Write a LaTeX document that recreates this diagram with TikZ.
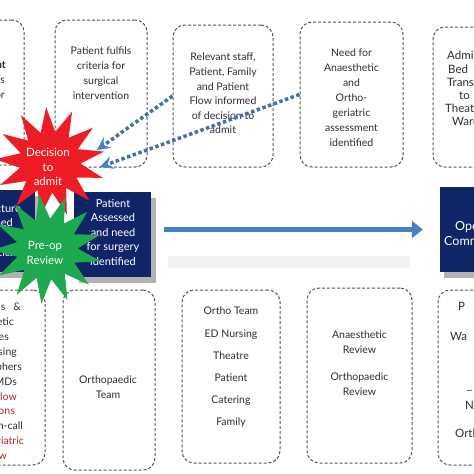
\documentclass[tikz,border=0pt]{standalone}
\usepackage{fontspec}
\setmainfont{Lato}
\usetikzlibrary{shapes.geometric,arrows.meta}
\definecolor{navy}{RGB}{16,36,104}
\definecolor{txt}{RGB}{45,45,60}
\definecolor{redt}{RGB}{176,40,40}
\definecolor{starred}{RGB}{238,28,36}
\definecolor{stargreen}{RGB}{30,168,80}
\definecolor{arrowblue}{RGB}{74,126,200}
\definecolor{dotblue}{RGB}{70,110,170}
\definecolor{dashgray}{RGB}{85,85,85}
\begin{document}
\begin{tikzpicture}[x=1pt,y=-1pt,
  dbox/.style={draw=dashgray, dash pattern=on 3pt off 2pt, line width=1pt, rounded corners=12pt, inner sep=0},
  navybox/.style={fill=navy, draw=none, inner sep=0},
  shadowbox/.style={fill=black!30, draw=none, inner sep=0},
  btxt/.style={text=txt, font=\fontsize{10.5}{15}\selectfont, align=center, inner sep=0},
  wtxt/.style={text=white, font=\fontsize{11}{14.5}\selectfont, align=center, inner sep=0},
  cliptxt/.style={text=txt, font=\fontsize{10.5}{15}\selectfont, inner sep=0},
  bigtxt/.style={text=txt, font=\fontsize{11.5}{15}\selectfont, inner sep=0},
  redtxt/.style={cliptxt, text=redt},
  whclip/.style={text=white, font=\fontsize{11}{14.5}\selectfont, inner sep=0},
  burst/.style={star, star points=13, star point ratio=1.8, minimum size=110pt, inner sep=0, draw=none},
  bigarrow/.style={draw=arrowblue, line width=5.5pt, -{Triangle[length=11pt,width=17pt]}},
  dotarrow/.style={draw=dotblue, line width=3.5pt, dash pattern=on 3.5pt off 2.5pt,
     -{Stealth[length=13pt,width=13pt,inset=5pt,line width=0.5pt,fill=arrowblue,color=arrowblue]}}
]
\useasboundingbox (0,0) rectangle (474,474);
\fill[white] (0,0) rectangle (474,474);
\clip (0,0) rectangle (474,474);

% ---------- top row ----------
\node[dbox, minimum width=104pt, minimum height=145pt] (boxA) at (-28,92.5) {};
\node[cliptxt, anchor=mid east, font=\fontsize{10.5}{15}\selectfont\bfseries] (a1) at (6,66) {Assessment};
\node[cliptxt, anchor=mid east] (a2) at (5,81) {Diagnosis};
\node[cliptxt, anchor=mid east] (a3) at (5,96) {Referral for};

\node[dbox, minimum width=92pt, minimum height=147pt] (fulfil) at (101,93.5) {};
\node[btxt] (fulfilt) at (101,73.5) {Patient fulfils\\criteria for\\surgical\\intervention};

\node[dbox, minimum width=100pt, minimum height=142pt] (inform) at (223,96) {};
\node[btxt, font=\fontsize{10.5}{14.6}\selectfont] (informt) at (223,93.5) {Relevant staff,\\Patient, Family\\and Patient\\Flow informed\\of decision to\\admit};

\node[dbox, minimum width=103pt, minimum height=145pt] (need) at (351.5,94.5) {};
\node[btxt] (needt) at (351.5,98) {Need for\\Anaesthetic\\and\\Ortho-\\geriatric\\assessment\\identified};

\node[dbox, minimum width=107pt, minimum height=140pt] (boxE) at (486.5,97) {};
\node[bigtxt, anchor=mid west] (e1) at (447,57) {Admit};
\node[bigtxt, anchor=mid west] (e2) at (448,71) {Bed};
\node[bigtxt, anchor=mid west] (e3) at (447,84) {Transfer};
\node[bigtxt, anchor=mid west] (e4) at (459,97) {to};
\node[bigtxt, anchor=mid west] (e5) at (445,110) {Theatre};
\node[bigtxt, anchor=mid west] (e6) at (452,123) {Ward};

% ---------- middle row ----------
\fill[black!5] (168,256) rectangle (410,268);

\node[shadowbox, minimum width=65pt, minimum height=82pt] (leftsh) at (7,237) {};
\node[navybox, minimum width=65pt, minimum height=82pt] (leftdark) at (2.5,231) {};
\node[whclip, anchor=mid east] (l1) at (21,210) {Fracture};
\node[whclip, anchor=mid east] (l2) at (13,224) {Confirmed};
\node[whclip, anchor=mid east] (l3) at (13,254) {Diagnostic.};

\node[shadowbox, minimum width=77pt, minimum height=85pt] (assesssh) at (117.5,240) {};
\node[navybox, minimum width=77pt, minimum height=85pt] (assess) at (112.5,234.5) {};
\node[wtxt] (assesst) at (113,232.5) {Patient\\Assessed\\and need\\for surgery\\identified};

\node[shadowbox, minimum width=100pt, minimum height=85pt] (opcsh) at (494,235) {};
\node[navybox, minimum width=100pt, minimum height=85pt] (opc) at (490,229.5) {};
\node[whclip, anchor=mid west, font=\fontsize{12.5}{15}\selectfont] (o1) at (455,228) {Operation};
\node[whclip, anchor=mid west, font=\fontsize{12.5}{15}\selectfont] (o2) at (444,243) {Commences};

\draw[bigarrow, shorten <=13pt, shorten >=17pt] (assess.east |- opc.west) -- (opc.west);

% ---------- bottom row ----------
\node[dbox, minimum width=105pt, minimum height=175pt] (boxF) at (-7.5,377.5) {};
\node[cliptxt, anchor=mid east] (f1) at (21,308) {Surgeons\hspace{8pt}\&};
\node[cliptxt, anchor=mid east] (f2) at (14,323) {Anaesthetic};
\node[cliptxt, anchor=mid east] (f3) at (9,338) {Theatres};
\node[cliptxt, anchor=mid east] (f4) at (17,353) {Ward Nursing};
\node[cliptxt, anchor=mid east] (f5) at (22,368) {Radiographers};
\node[cliptxt, anchor=mid east] (f6) at (17,383) {Ortho MDs};
\node[redtxt, anchor=mid east] (f7) at (17,398) {Patient Flow};
\node[redtxt, anchor=mid east] (f8) at (15,412) {Operations};
\node[cliptxt, anchor=mid east] (f9) at (23,427) {Ortho On-call};
\node[redtxt, anchor=mid east] (f10) at (24,442) {Ortho-geriatric};
\node[redtxt, anchor=mid east] (f11) at (7,457) {Review};

\node[dbox, minimum width=92pt, minimum height=180pt] (ortho) at (109,380) {};
\node[btxt] (orthot) at (108,387.5) {Orthopaedic\\Team};

\node[dbox, minimum width=98pt, minimum height=173pt] (teams) at (231,376.5) {};
\node[btxt, font=\fontsize{10.5}{22.2}\selectfont] (teamst) at (231,367.5) {Ortho Team\\ED Nursing\\Theatre\\Patient\\Catering\\Family};

\node[dbox, minimum width=105pt, minimum height=175pt] (review) at (359.5,375.5) {};
\node[btxt] (reviewt1) at (359.5,342.5) {Anaesthetic\\Review};
\node[btxt] (reviewt2) at (359.5,384) {Orthopaedic\\Review};

\node[dbox, minimum width=107pt, minimum height=175pt] (boxJ) at (491.5,377.5) {};
\node[bigtxt, anchor=mid west] (j1) at (458,308) {P};
\node[bigtxt, anchor=mid west] (j2) at (450,338) {Wa};
\node[bigtxt, anchor=mid west] (j3) at (466,392) {--};
\node[bigtxt, anchor=mid west] (j4) at (465,407) {N};
\node[bigtxt, anchor=mid west] (j5) at (455,435) {Ortho};

% ---------- stars ----------
\node[burst, fill=starred, rotate=4] (decide) at (50,162) {};
\node[wtxt, font=\fontsize{11.5}{14.5}\selectfont] (decidet) at (48,167) {Decision\\to\\admit};
\node[burst, fill=stargreen, rotate=8] (preop) at (47,249) {};
\node[wtxt, font=\fontsize{11.5}{15}\selectfont] (preopt) at (45,252.5) {Pre-op\\Review};

% ---------- dotted arrows ----------
\coordinate (t1) at (97,150);
\coordinate (t2) at (100,167);
\draw[dotarrow] (inform.west) -- (t1);
\draw[dotarrow] (need.west) -- (t2);
\end{tikzpicture}
\end{document}
